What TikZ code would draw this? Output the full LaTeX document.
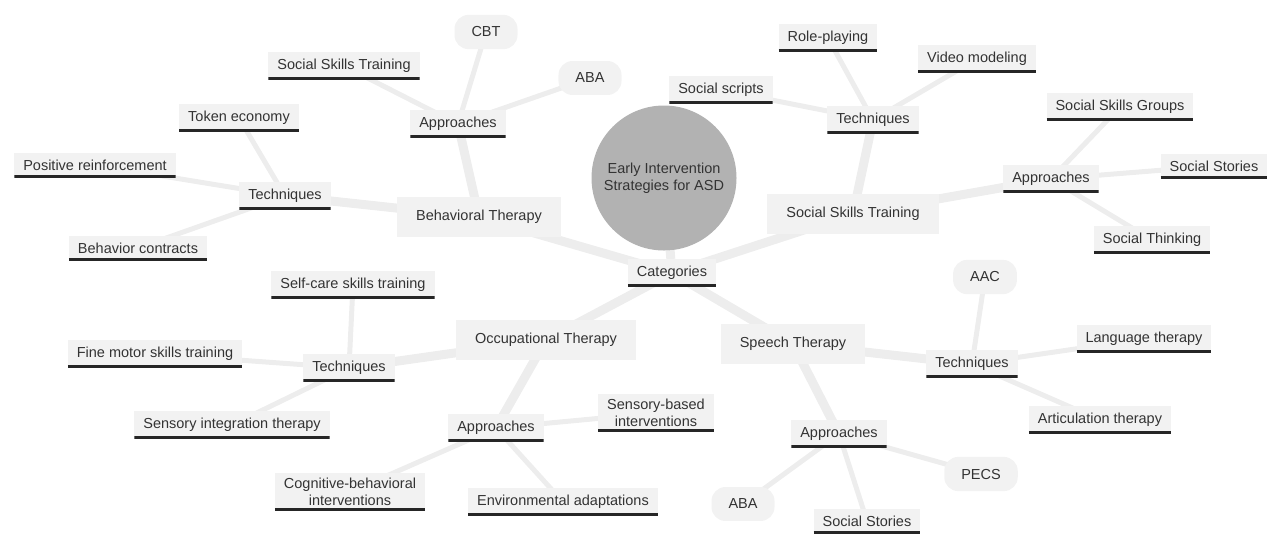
\documentclass[tikz,border=0pt]{standalone}
\usepackage{fontspec}
\setmainfont{Liberation Sans}
\usetikzlibrary{backgrounds}
\definecolor{bx}{HTML}{F2F2F2}
\definecolor{ln}{HTML}{EDEDED}
\definecolor{tx}{HTML}{333333}
\tikzset{
 base/.style={fill=bx,text=tx,font=\fontsize{14.5}{17}\selectfont,align=center,inner xsep=9pt,inner ysep=7pt},
 ubox/.style={base,path picture={\draw[black!85,line width=5pt] (path picture bounding box.south west)--(path picture bounding box.south east);}},
 cat/.style={base,inner xsep=19pt,inner ysep=13pt},
 rbox/.style={base,rounded corners=14pt,inner xsep=17pt,inner ysep=12pt},
 e1/.style={ln,line width=9pt},
 e2/.style={ln,line width=5pt}
}
\begin{document}
\begin{tikzpicture}[x=1pt,y=-1pt]
\useasboundingbox (0,0) rectangle (1280,547);
\node[circle,fill=black!30,minimum size=145pt,text=tx,font=\fontsize{14.5}{17}\selectfont,align=center] (root) at (664,178) {Early Intervention\\Strategies for ASD};
\node[ubox] (c) at (672,273) {Categories};
\node[cat] (bt) at (479,217) {Behavioral Therapy};
\node[cat] (sst) at (853,214) {Social Skills Training};
\node[cat] (ot) at (546,340) {Occupational Therapy};
\node[cat] (st) at (793,344) {Speech Therapy};
\node[ubox] (bta) at (458,124) {Approaches};
\node[ubox] (btt) at (285,196) {Techniques};
\node[rbox] (cbt) at (486,32) {CBT};
\node[ubox] (bss) at (344,66) {Social Skills Training};
\node[rbox] (aba1) at (590,78) {ABA};
\node[ubox] (tok) at (239,118) {Token economy};
\node[ubox] (pos) at (95,165) {Positive reinforcement};
\node[ubox] (con) at (138,248) {Behavior contracts};
\node[ubox] (sstt) at (873,120) {Techniques};
\node[ubox] (rp) at (828,38) {Role-playing};
\node[ubox] (vm) at (977,59) {Video modeling};
\node[ubox] (ss) at (721,90) {Social scripts};
\node[ubox] (ssta) at (1051,179) {Approaches};
\node[ubox] (ssg) at (1120,107) {Social Skills Groups};
\node[ubox] (sst2) at (1214,166) {Social Stories};
\node[ubox] (sth) at (1152,240) {Social Thinking};
\node[ubox] (ott) at (349,368) {Techniques};
\node[ubox] (sc) at (353,285) {Self-care skills training};
\node[ubox] (fm) at (155,354) {Fine motor skills training};
\node[ubox] (si) at (232,425) {Sensory integration therapy};
\node[ubox] (ota) at (496,428) {Approaches};
\node[ubox,inner ysep=5pt] (sb) at (656,413) {Sensory-based\\interventions};
\node[ubox,inner ysep=5pt] (cb) at (350,492) {Cognitive-behavioral\\interventions};
\node[ubox] (ea) at (563,502) {Environmental adaptations};
\node[ubox] (stt) at (972,364) {Techniques};
\node[rbox] (aac) at (985,277) {AAC};
\node[ubox] (lt) at (1144,339) {Language therapy};
\node[ubox] (at) at (1100,420) {Articulation therapy};
\node[ubox] (sta) at (839,434) {Approaches};
\node[rbox] (pecs) at (981,474) {PECS};
\node[rbox] (aba2) at (743,504) {ABA};
\node[ubox] (sts) at (867,521) {Social Stories};
\begin{scope}[on background layer]
\draw[e1] (root)--(c);
\foreach \t in {bt,sst,ot,st} \draw[e1] (c.center)--(\t.center);
\foreach \a/\b in {bt/bta,bt/btt,sst/sstt,sst/ssta,ot/ott,ot/ota,st/stt,st/sta} \draw[e1] (\a.center)--(\b.center);
\foreach \a/\b in {bta/cbt,bta/bss,bta/aba1,btt/tok,btt/pos,btt/con,sstt/rp,sstt/vm,sstt/ss,ssta/ssg,ssta/sst2,ssta/sth,ott/sc,ott/fm,ott/si,ota/sb,ota/cb,ota/ea,stt/aac,stt/lt,stt/at,sta/pecs,sta/aba2,sta/sts} \draw[e2] (\a.center)--(\b.center);
\end{scope}
\end{tikzpicture}
\end{document}
